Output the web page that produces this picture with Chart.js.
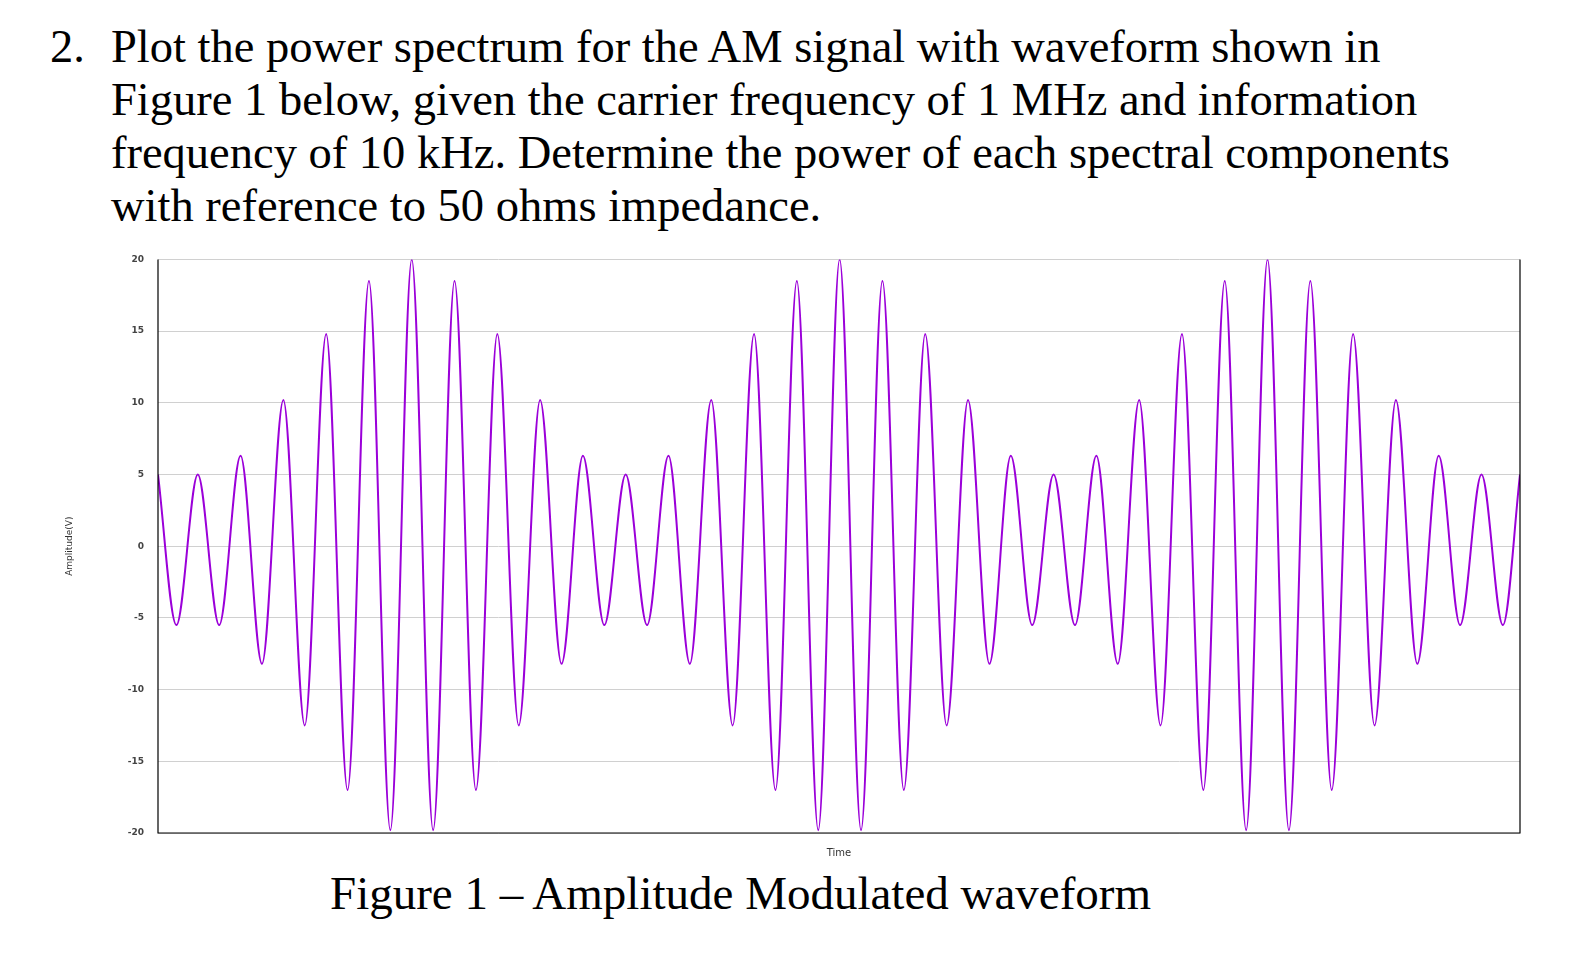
<!DOCTYPE html>
<html><head><meta charset="utf-8">
<script src="https://cdn.jsdelivr.net/npm/chart.js@4/dist/chart.umd.min.js"></script>
<style>
body{margin:0;background:#fff;width:1594px;height:969px;position:relative;overflow:hidden;font-family:"Liberation Serif","Times New Roman",serif;}
#q{position:absolute;left:50px;top:20px;font-size:46.5px;line-height:53px;color:#000;white-space:nowrap;}
#q .n{position:absolute;left:0;top:0;}
#q .t{margin-left:61px;}
#cap{position:absolute;left:330px;top:866px;font-size:47px;color:#000;white-space:nowrap;}
#wrap{position:absolute;left:60px;top:240px;width:1465px;height:623px;}
</style></head><body>
<div id="q"><span class="n">2.</span><div class="t">Plot the power spectrum for the AM signal with waveform shown in<br>Figure 1 below, given the carrier frequency of 1 MHz and information<br>frequency of 10 kHz. Determine the power of each spectral components<br>with reference to 50 ohms impedance.</div></div>
<div id="wrap"><canvas id="c"></canvas></div>
<div id="cap">Figure 1 – Amplitude Modulated waveform</div>
<script>
// one envelope period of extrema (half-cycle steps)
const envelopeExtrema = [5,-5.5,6.3,-8.2,10.2,-12.5,14.8,-17,18.5,-19.8,20,-19.8,18.5,-17,14.8,-12.5,10.2,-8.2,6.3,-5.5];
const startPoint = {t:-1.86, v:5};
const endPoint = {t:61.8, v:5};
const yTicks = [20,15,10,5,0,-5,-10,-15,-20];
const times = [startPoint.t, -1];
const values = [startPoint.v, -5.5];
for (let k=0;k<=61;k++){ times.push(k); values.push(envelopeExtrema[k%20]); }
times.push(endPoint.t); values.push(endPoint.v);
const pts = times.map((t,i)=>({x:t,y:values[i]}));
const border = {id:'border',afterDraw(ch){const a=ch.chartArea,c=ch.ctx;c.save();c.strokeStyle='#000';c.lineWidth=1.2;
c.beginPath();c.moveTo(a.left,a.top);c.lineTo(a.left,a.bottom);c.lineTo(a.right,a.bottom);c.lineTo(a.right,a.top);c.stroke();c.restore();}};
new Chart(document.getElementById('c'),{type:'line',
data:{datasets:[{data:pts,borderColor:'#9b00d9',borderWidth:2,pointRadius:0,cubicInterpolationMode:'monotone',fill:false}]},
options:{responsive:true,maintainAspectRatio:false,animation:false,
layout:{padding:{top:15,right:5,left:0,bottom:0}},
plugins:{legend:{display:false},tooltip:{enabled:false}},
scales:{
x:{type:'linear',min:startPoint.t,max:endPoint.t,grid:{display:false},border:{display:false},ticks:{display:false},
title:{display:true,text:'Time',font:{family:'DejaVu Sans',size:10},color:'#333',padding:{top:4}},
afterFit(s){s.height=30;}},
y:{min:-20,max:20,afterBuildTicks(s){s.ticks=yTicks.map(v=>({value:v}));},
grid:{color:'#d0d0d0',drawTicks:false},border:{display:false},
ticks:{font:{family:'DejaVu Sans',size:9,weight:'bold'},color:'#444',padding:14},
title:{display:true,text:'Amplitude(V)',font:{family:'DejaVu Sans',size:9},color:'#333'},
afterFit(s){s.width=98;}}
}},plugins:[border]});
</script></body></html>
